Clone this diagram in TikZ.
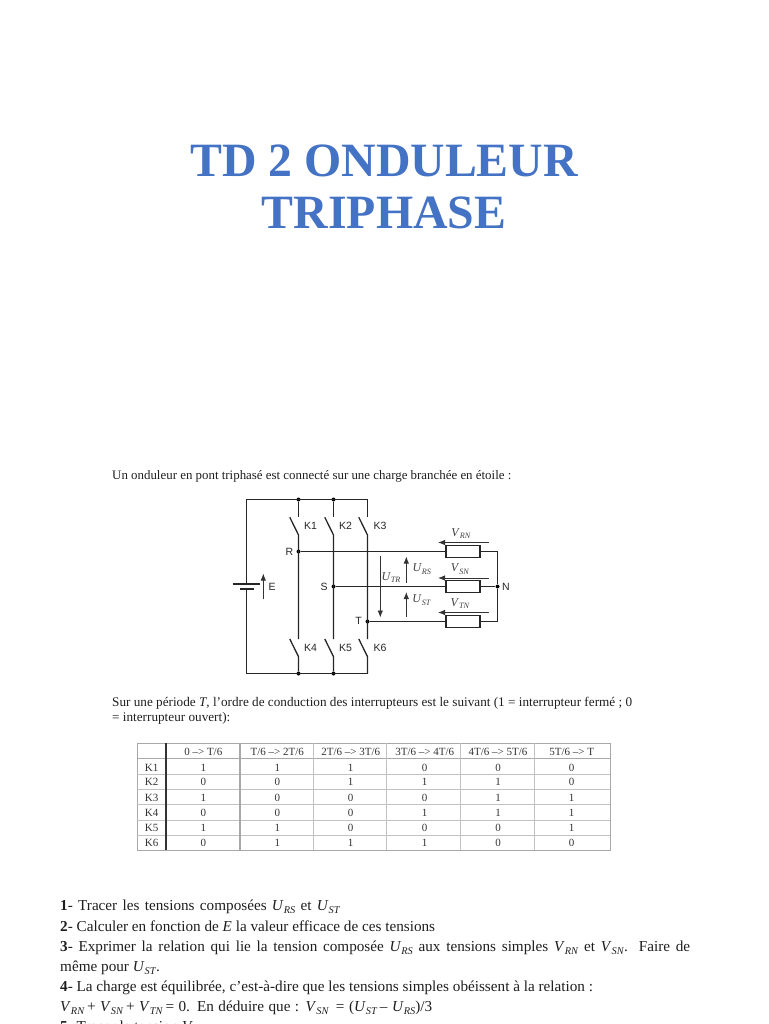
\documentclass[tikz,border=0pt]{standalone}
\usepackage{fontspec}
\setmainfont{Liberation Serif}
\newfontfamily\arialf{Liberation Sans}
\usetikzlibrary{arrows.meta}
\definecolor{titleblue}{HTML}{4472C4}
\definecolor{inktext}{HTML}{1E1E1E}
\definecolor{rulegray}{HTML}{A8A8A8}
\newcommand{\symb}[2]{\textit{#1}\raisebox{-.22em}{\scalebox{.68}{\textit{#2}}}}
\tikzset{
  x=1pt,y=-1pt,
  wire/.style={line width=1.3pt,black!85},
  arr/.style={line width=.9pt,black!80,-{Latex[length=7pt,width=5.5pt]}},
  dot/.style={circle,fill=black,inner sep=0pt,minimum size=4pt},
  res/.style={draw=black!85,line width=1.3pt,minimum width=34pt,minimum height=12pt,inner sep=0pt},
  lab/.style={font=\arialf\fontsize{10.5}{12}\selectfont,inner sep=0pt,text=black!85},
  vlab/.style={font=\fontsize{12}{14}\selectfont,inner sep=0pt,text=black!75},
  ttl/.style={font=\bfseries\fontsize{47.8}{50}\selectfont,text=titleblue,anchor=base,inner sep=0pt},
  para/.style={font=\fontsize{12.9}{14}\selectfont,text=inktext,anchor=base west,inner sep=0pt},
  parb/.style={font=\fontsize{13.2}{14}\selectfont,text=inktext,anchor=base west,inner sep=0pt},
  low/.style={font=\fontsize{15.2}{18}\selectfont,text=inktext,anchor=base west,inner sep=0pt},
  cell/.style={font=\fontsize{11}{12}\selectfont,text=black!80,anchor=base,inner sep=0pt}
}
\begin{document}
\begin{tikzpicture}
\useasboundingbox (0,0) rectangle (768,1024);
\clip (0,0) rectangle (768,1024);
% title
\node[ttl] (t1) at (384,177) {TD 2 ONDULEUR};
\node[ttl] (t2) at (384,229) {TRIPHASE};
\node[para] (p1) at (112,479) {Un onduleur en pont triphasé est connecté sur une charge branchée en étoile :};
% junctions
\node[dot] (top1) at (298.5,499.5) {};
\node[dot] (top2) at (333.5,499.5) {};
\coordinate (top3) at (367.5,499.5);
\coordinate (tl) at (246.5,499.5);
\node[dot] (bot1) at (298.5,673.5) {};
\node[dot] (bot2) at (333.5,673.5) {};
\coordinate (bot3) at (367.5,673.5);
\coordinate (bl) at (246.5,673.5);
\node[dot] (R) at (298.5,551.5) {};
\node[dot] (S) at (333.5,586.5) {};
\node[dot] (T) at (367.5,621.5) {};
\node[dot] (N) at (497.5,586.5) {};
% rails
\coordinate (platep) at (246.5,584);
\coordinate (platen) at (246.5,589);
\draw[wire] (platep) -- (tl) -- (top3);
\draw[wire] (platen) -- (bl) -- (bot3);
\draw[wire] (232.5,584) -- (260,584);
\draw[wire,line width=1.6pt] (240,589) -- (254.3,589);
% switches
\foreach \c/\xx in {1/298.5,2/333.5,3/367.5}{
  \coordinate (ua\c) at (\xx,517.3);
  \coordinate (ub\c) at (\xx-8.7,517.3);
  \coordinate (uc\c) at (\xx,535);
  \coordinate (la\c) at (\xx,639);
  \coordinate (lb\c) at (\xx-8.7,639);
  \coordinate (lc\c) at (\xx,656.7);
}
\draw[wire] (top1) -- (ua1); \draw[wire] (top2) -- (ua2); \draw[wire] (top3) -- (ua3);
\draw[wire] (ub1) -- (uc1) -- (la1); \draw[wire] (ub2) -- (uc2) -- (la2); \draw[wire] (ub3) -- (uc3) -- (la3);
\draw[wire] (lb1) -- (lc1) -- (bot1); \draw[wire] (lb2) -- (lc2) -- (bot2); \draw[wire] (lb3) -- (lc3) -- (bot3);
% loads
\node[res] (r1) at (463,551.5) {};
\node[res] (r2) at (463,586.5) {};
\node[res] (r3) at (463,621.5) {};
\coordinate (nr) at (497.5,551.5);
\coordinate (nt) at (497.5,621.5);
\draw[wire] (R) -- (r1.west);
\draw[wire] (S) -- (r2.west);
\draw[wire] (T) -- (r3.west);
\draw[wire] (r1.east) -- (nr) -- (N);
\draw[wire] (r2.east) -- (N);
\draw[wire] (r3.east) -- (nt) -- (N);
% voltage arrows
\coordinate (va1) at (488.5,542.5); \coordinate (vb1) at (438,542.5);
\coordinate (va2) at (488.5,578); \coordinate (vb2) at (438,578);
\coordinate (va3) at (488.5,612.5); \coordinate (vb3) at (438,612.5);
\draw[arr] (va1) -- (vb1);
\draw[arr] (va2) -- (vb2);
\draw[arr] (va3) -- (vb3);
\coordinate (utra) at (380.3,555.7); \coordinate (utrb) at (380.3,617.5);
\coordinate (ursa) at (406.3,582.7); \coordinate (ursb) at (406.3,556.5);
\coordinate (usta) at (406.3,616.7); \coordinate (ustb) at (406.3,592);
\draw[arr] (utra) -- (utrb);
\draw[arr] (ursa) -- (ursb);
\draw[arr] (usta) -- (ustb);
\coordinate (ea) at (263.3,599.3); \coordinate (eb) at (263.3,573.5);
\draw[arr] (ea) -- (eb);
% labels
\node[lab] (lk1) at (310.5,526) {K1};
\node[lab] (lk2) at (345.5,526) {K2};
\node[lab] (lk3) at (380,526) {K3};
\node[lab] (lk4) at (310.5,647.7) {K4};
\node[lab] (lk5) at (345.5,647.7) {K5};
\node[lab] (lk6) at (380,647.7) {K6};
\node[lab] (lr) at (289.3,551.7) {R};
\node[lab] (ls) at (324,586.7) {S};
\node[lab] (lt) at (358.7,621) {T};
\node[lab] (ln) at (506,587) {N};
\node[lab] (le) at (272,587) {E};
\node[vlab] (lv1) at (461,533.5) {\symb{V}{RN}};
\node[vlab] (lv2) at (460,569) {\symb{V}{SN}};
\node[vlab] (lv3) at (460,603.5) {\symb{V}{TN}};
\node[vlab] (lu1) at (391,577.5) {\symb{U}{TR}};
\node[vlab] (lu2) at (421.7,569) {\symb{U}{RS}};
\node[vlab] (lu3) at (421.7,600) {\symb{U}{ST}};
% paragraph
\node[parb] (p2) at (112,706) {Sur une période \textit{T}, l’ordre de conduction des interrupteurs est le suivant (1 = interrupteur fermé ; 0};
\node[parb] (p3) at (112,721) {= interrupteur ouvert):};
% table
\draw[rulegray,line width=.9pt] (137.3,743.3) rectangle (610,850.3);
\draw[rulegray,line width=1.1pt] (137.3,758.3) -- (610,758.3);
\foreach \yy in {774.3,789.3,804.7,820,835.3} \draw[rulegray!70,line width=.7pt] (137.3,\yy) -- (610,\yy);
\draw[black!80,line width=1.1pt] (166,743.3) -- (166,850.3);
\draw[rulegray,line width=1.1pt] (240,743.3) -- (240,850.3);
\foreach \xx in {313.3,386.7,460,534} \draw[rulegray!70,line width=.7pt] (\xx,743.3) -- (\xx,850.3);
\foreach \lbl [count=\c] in {0 --> T/6,T/6 --> 2T/6,2T/6 --> 3T/6,3T/6 --> 4T/6,4T/6 --> 5T/6,5T/6 --> T}{
  \pgfmathsetmacro{\cx}{{203.3,277.3,350.7,424.7,498,571.7}[\c-1]}
  \node[cell] (h\c) at (\cx,755.8) {\lbl};
}
\foreach \r/\yy/\a/\b/\cc/\d/\e/\f in {
  1/771/1/1/1/0/0/0,
  2/785.7/0/0/1/1/1/0,
  3/801/1/0/0/0/1/1,
  4/816.4/0/0/0/1/1/1,
  5/831.7/1/1/0/0/0/1,
  6/846.4/0/1/1/1/0/0}{
  \node[cell] (k\r) at (151.7,\yy) {K\r};
  \node[cell] (c\r a) at (203.3,\yy) {\a};
  \node[cell] (c\r b) at (277.3,\yy) {\b};
  \node[cell] (c\r c) at (350.7,\yy) {\cc};
  \node[cell] (c\r d) at (424.7,\yy) {\d};
  \node[cell] (c\r e) at (498,\yy) {\e};
  \node[cell] (c\r f) at (571.7,\yy) {\f};
}
% questions
\node[low] (q1) at (60,910) {\makebox[280pt][s]{\textbf{1}- Tracer les tensions composées \symb{U}{RS} et \symb{U}{ST}}};
\node[low] (q2) at (60,931.5) {\textbf{2}- Calculer en fonction de \textit{E} la valeur efficace de ces tensions};
\node[low] (q3) at (60,951) {\makebox[630pt][s]{\textbf{3}- Exprimer la relation qui lie la tension composée \symb{U}{RS} aux tensions simples \symb{V}{RN} et \symb{V}{SN}. Faire de}};
\node[low] (q3b) at (60,971) {même pour \symb{U}{ST}.};
\node[low] (q4) at (60,991) {\textbf{4}- La charge est équilibrée, c’est-à-dire que les tensions simples obéissent à la relation :};
\node[low] (q4b) at (60,1011) {\makebox[372pt][s]{\symb{V}{RN}\,+ \symb{V}{SN}\,+ \symb{V}{TN}\,= 0. En déduire que : \symb{V}{SN}\, = (\symb{U}{ST}\,– \symb{U}{RS})/3}};
\node[low] (q5) at (60,1031) {\textbf{5}- Tracer la tension \textit{V}};
\end{tikzpicture}
\end{document}
